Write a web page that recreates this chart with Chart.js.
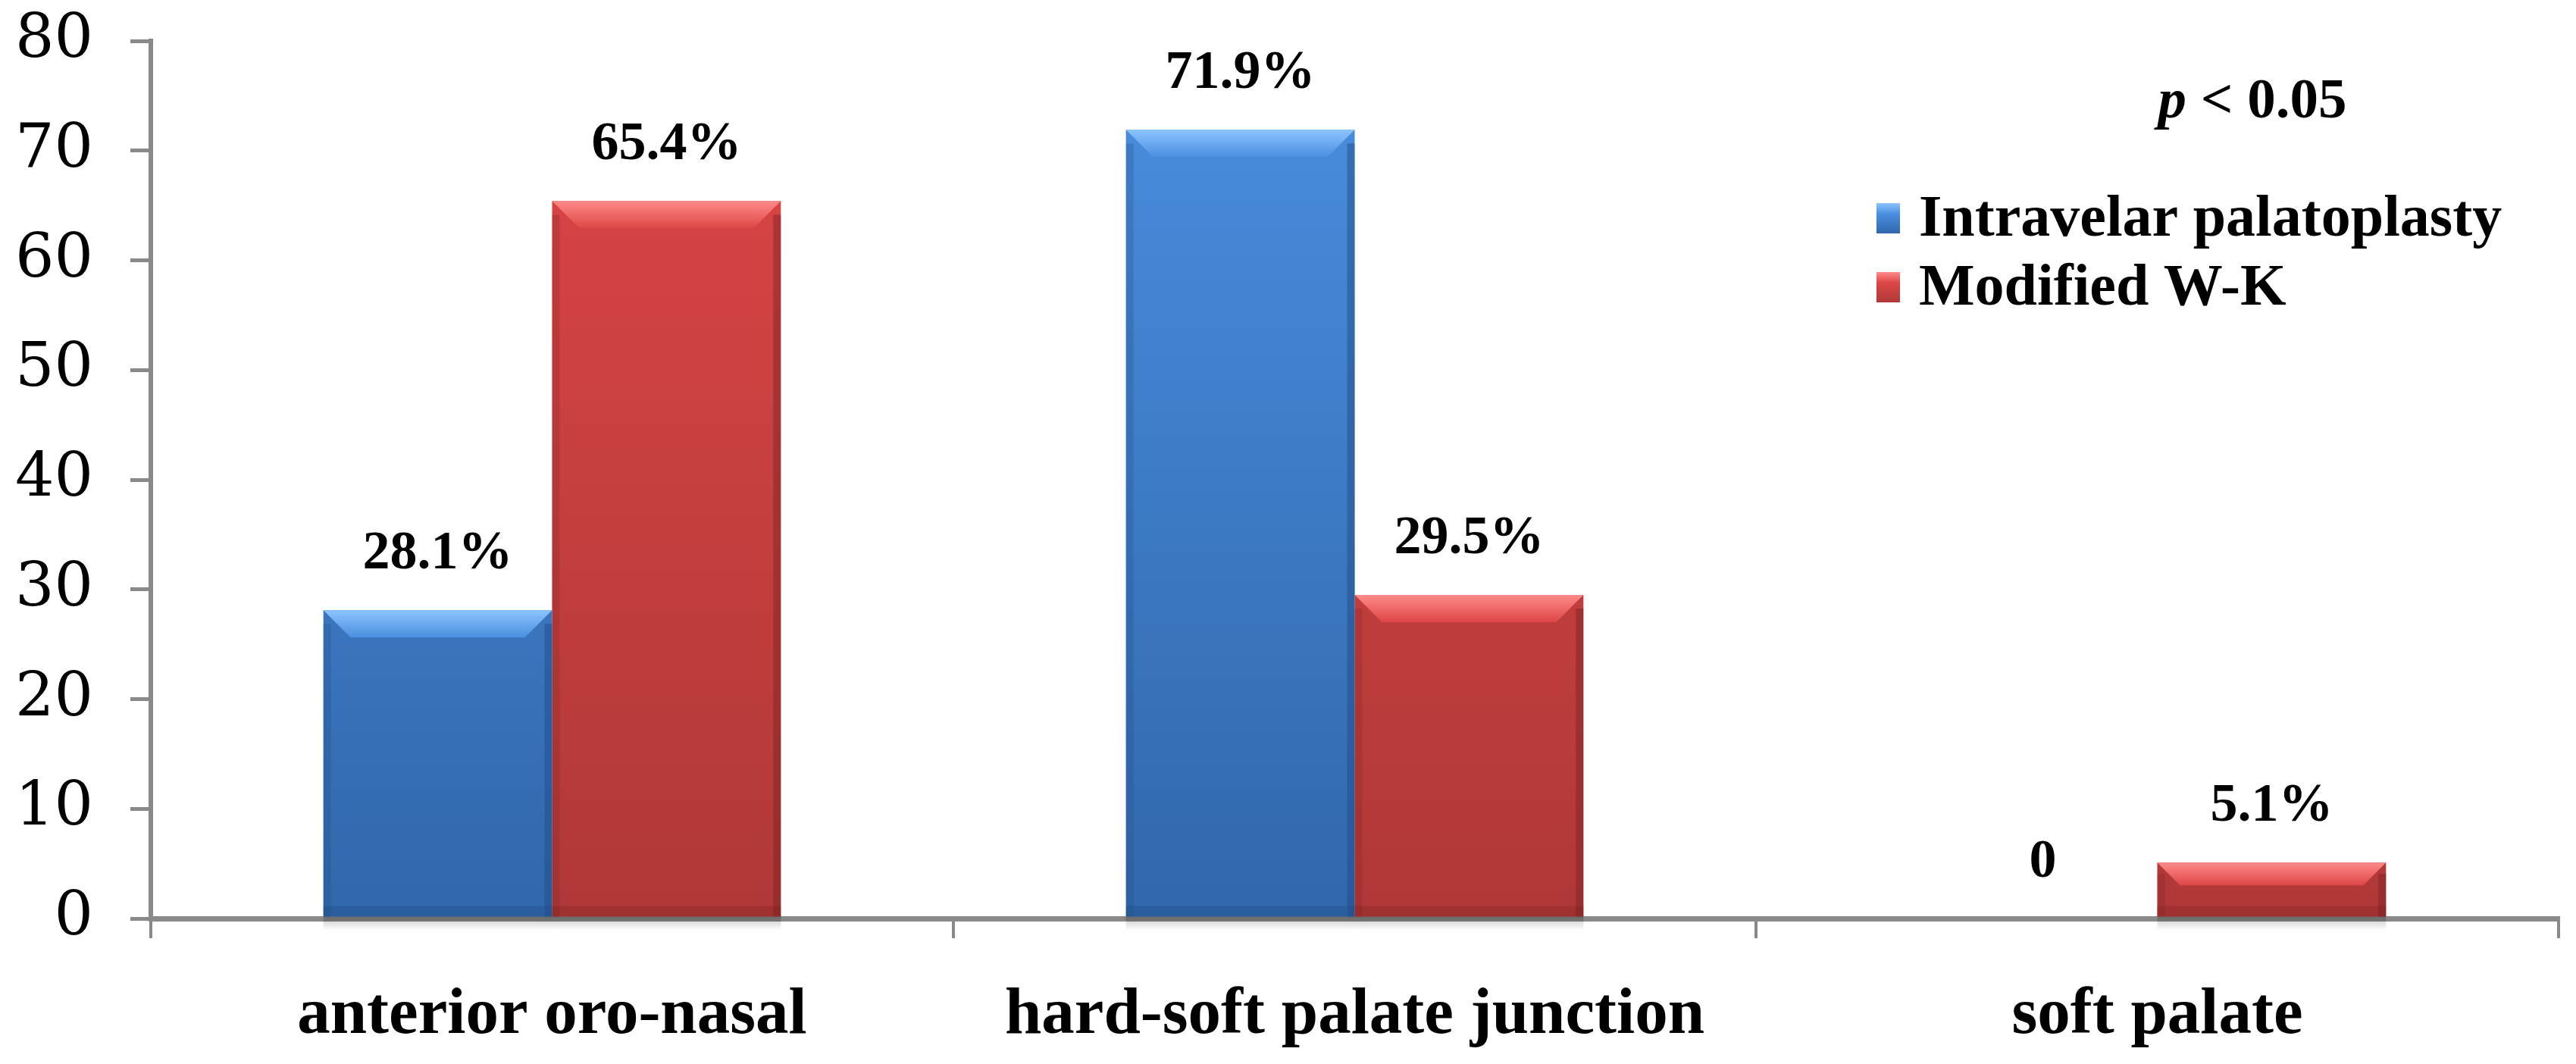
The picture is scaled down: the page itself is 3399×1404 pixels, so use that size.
<!DOCTYPE html>
<html>
<head>
<meta charset="utf-8">
<script src="https://cdn.jsdelivr.net/npm/chart.js"></script>
<style>
  html, body { margin: 0; padding: 0; background: #fff; }
  #wrap { width: 3399px; height: 1404px; }
</style>
</head>
<body>
<div id="wrap"><canvas id="chart"></canvas></div>
<script>
const categories = ['anterior oro-nasal', 'hard-soft palate junction', 'soft palate'];
const seriesNames = ['Intravelar palatoplasty', 'Modified W-K'];
const intravelarValues = [28.1, 71.9, 0];
const modifiedWKValues = [65.4, 29.5, 5.1];
const intravelarLabels = ['28.1%', '71.9%', '0'];
const modifiedWKLabels = ['65.4%', '29.5%', '5.1%'];
const yMin = 0;
const yMax = 80;
const yStep = 10;
const pValueNote = ['p', ' < 0.05'];

const AXIS_GREY = '#898989';
const SERIF = '"Liberation Serif", "Times New Roman", serif';

// top/bottom colours of each series' bars
const colours = [
  { top: '#4a8fe0', bottom: '#3167ac', light: '#8cc4ff', dark: '#1f4a80' },
  { top: '#de4646', bottom: '#b03838', light: '#ff8a8a', dark: '#7a2222' },
];

function barFill(idx) {
  return (ctx) => {
    const area = ctx.chart.chartArea;
    if (!area) return colours[idx].top;
    const g = ctx.chart.ctx.createLinearGradient(0, area.top, 0, area.bottom);
    g.addColorStop(0, colours[idx].top);
    g.addColorStop(1, colours[idx].bottom);
    return g;
  };
}

// bevelled look of the bars, drawn over the library's own bar elements
const bevelPlugin = {
  id: 'bevel',
  afterDatasetsDraw(chart) {
    const ctx = chart.ctx;
    chart.data.datasets.forEach((ds, di) => {
      const meta = chart.getDatasetMeta(di);
      meta.data.forEach((bar) => {
        const { x, y, base, width } = bar.getProps(['x', 'y', 'base', 'width'], true);
        const h = base - y;
        if (h < 2) return;
        const l = x - width / 2;
        const r = x + width / 2;
        const b = Math.min(36, h * 0.42);
        const c = colours[di];
        ctx.save();
        // soft shadow under the bar
        const sg = ctx.createLinearGradient(0, base, 0, base + 18);
        sg.addColorStop(0, 'rgba(0,0,0,0.22)');
        sg.addColorStop(1, 'rgba(0,0,0,0)');
        ctx.fillStyle = sg;
        ctx.fillRect(l, base, width, 18);
        // top band
        const tg = ctx.createLinearGradient(0, y, 0, y + b);
        tg.addColorStop(0, c.light);
        tg.addColorStop(1, c.top);
        ctx.fillStyle = tg;
        ctx.beginPath();
        ctx.moveTo(l, y);
        ctx.lineTo(r, y);
        ctx.lineTo(r - b, y + b);
        ctx.lineTo(l + b, y + b);
        ctx.closePath();
        ctx.fill();
        // side edges
        ctx.globalAlpha = 0.25;
        ctx.fillStyle = c.dark;
        ctx.fillRect(l, y + b * 0.5, 10, h - b * 0.5);
        ctx.globalAlpha = 0.45;
        ctx.fillRect(r - 10, y + b * 0.5, 10, h - b * 0.5);
        ctx.globalAlpha = 0.3;
        ctx.fillRect(l, base - 14, width, 14);
        ctx.restore();
      });
    });
  },
};

const valueLabelPlugin = {
  id: 'valueLabels',
  afterDatasetsDraw(chart) {
    const ctx = chart.ctx;
    const labelSets = [intravelarLabels, modifiedWKLabels];
    ctx.save();
    ctx.font = 'bold 72px ' + SERIF;
    ctx.fillStyle = '#000';
    ctx.textAlign = 'center';
    ctx.textBaseline = 'middle';
    chart.data.datasets.forEach((ds, di) => {
      chart.getDatasetMeta(di).data.forEach((bar, i) => {
        ctx.fillText(labelSets[di][i], bar.x, bar.y - 74);
      });
    });
    ctx.restore();
  },
};

const legendPlugin = {
  id: 'sideLegend',
  afterDraw(chart) {
    const ctx = chart.ctx;
    ctx.save();
    ctx.fillStyle = '#000';
    ctx.textBaseline = 'middle';
    // p value note
    ctx.font = 'italic bold 75px ' + SERIF;
    const pw = ctx.measureText(pValueNote[0]).width;
    ctx.font = 'bold 75px ' + SERIF;
    const rw = ctx.measureText(pValueNote[1]).width;
    const px = 2972 - (pw + rw) / 2;
    ctx.font = 'italic bold 75px ' + SERIF;
    ctx.fillText(pValueNote[0], px, 136);
    ctx.font = 'bold 75px ' + SERIF;
    ctx.fillText(pValueNote[1], px + pw, 136);
    // legend items
    ctx.font = 'bold 78px ' + SERIF;
    seriesNames.forEach((name, i) => {
      const cy = 288 + i * 91;
      const c = colours[i];
      const g = ctx.createLinearGradient(0, cy - 20, 0, cy + 20);
      g.addColorStop(0, c.light);
      g.addColorStop(0.35, c.top);
      g.addColorStop(1, c.bottom);
      ctx.fillStyle = g;
      ctx.fillRect(2476, cy - 20, 31, 40);
      ctx.fillStyle = '#000';
      ctx.fillText(name, 2532, cy + 3);
    });
    ctx.restore();
  },
};

const chart = new Chart(document.getElementById('chart'), {
  type: 'bar',
  data: {
    labels: categories,
    datasets: [
      { label: seriesNames[0], data: intravelarValues, backgroundColor: barFill(0), borderWidth: 0 },
      { label: seriesNames[1], data: modifiedWKValues, backgroundColor: barFill(1), borderWidth: 0 },
    ],
  },
  options: {
    responsive: true,
    maintainAspectRatio: false,
    animation: false,
    datasets: { bar: { categoryPercentage: 0.57, barPercentage: 1.0 } },
    layout: { padding: { top: 54, right: 23, left: 0, bottom: 0 } },
    plugins: { legend: { display: false }, tooltip: { enabled: false } },
    scales: {
      x: {
        grid: { drawOnChartArea: false, drawTicks: true, tickLength: 26, color: AXIS_GREY, lineWidth: 4 },
        border: { display: true, color: AXIS_GREY, width: 7 },
        ticks: { color: '#000', font: { family: SERIF, size: 87, weight: 'bold' }, padding: 50 },
        afterFit(scale) { scale.height = 192; },
      },
      y: {
        min: yMin,
        max: yMax,
        grid: { drawOnChartArea: false, drawTicks: true, tickLength: 27, color: AXIS_GREY, lineWidth: 5 },
        border: { display: true, color: AXIS_GREY, width: 6 },
        ticks: { stepSize: yStep, color: '#000', font: { family: '"DejaVu Serif", serif', size: 81 }, padding: 49 },
        afterFit(scale) {
          scale.width = 199;
          // tick padding would otherwise push the plot top down
          scale.paddingTop = 0;
          scale.paddingBottom = 0;
        },
      },
    },
  },
  plugins: [bevelPlugin, valueLabelPlugin, legendPlugin],
});
</script>
</body>
</html>
